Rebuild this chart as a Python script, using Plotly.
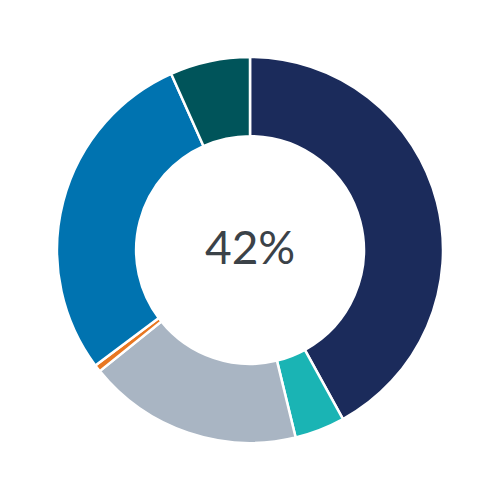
import plotly.graph_objects as go

# slice shares, clockwise from 12 o'clock
labels = ['Navy', 'Teal', 'Gray', 'Orange', 'Blue', 'Dark teal']
values = [42, 4.2, 18, 0.6, 28.5, 6.7]
colors = ['#1b2b5b', '#1ab4b4', '#a9b5c3', '#e87722', '#0073b0', '#00545a']
center_text = '42%'

fig = go.Figure(go.Pie(
    labels=labels,
    values=values,
    hole=0.59,
    sort=False,
    direction='clockwise',
    rotation=0,
    marker=dict(colors=colors, line=dict(color='white', width=2.5)),
    textinfo='none',
    hoverinfo='label+percent',
))

# page body has an 8px margin, so shift the plot area up/left to compensate
fig.update_layout(
    width=500, height=500,
    margin=dict(l=49, r=65, t=49, b=65),
    showlegend=False,
    paper_bgcolor='white',
    annotations=[dict(text=center_text, x=0.5, y=0.5, xref='paper', yref='paper',
                      yshift=4, showarrow=False,
                      font=dict(family='Lato', size=46, color='#3b4248'))],
)

fig.write_html("out.html")
